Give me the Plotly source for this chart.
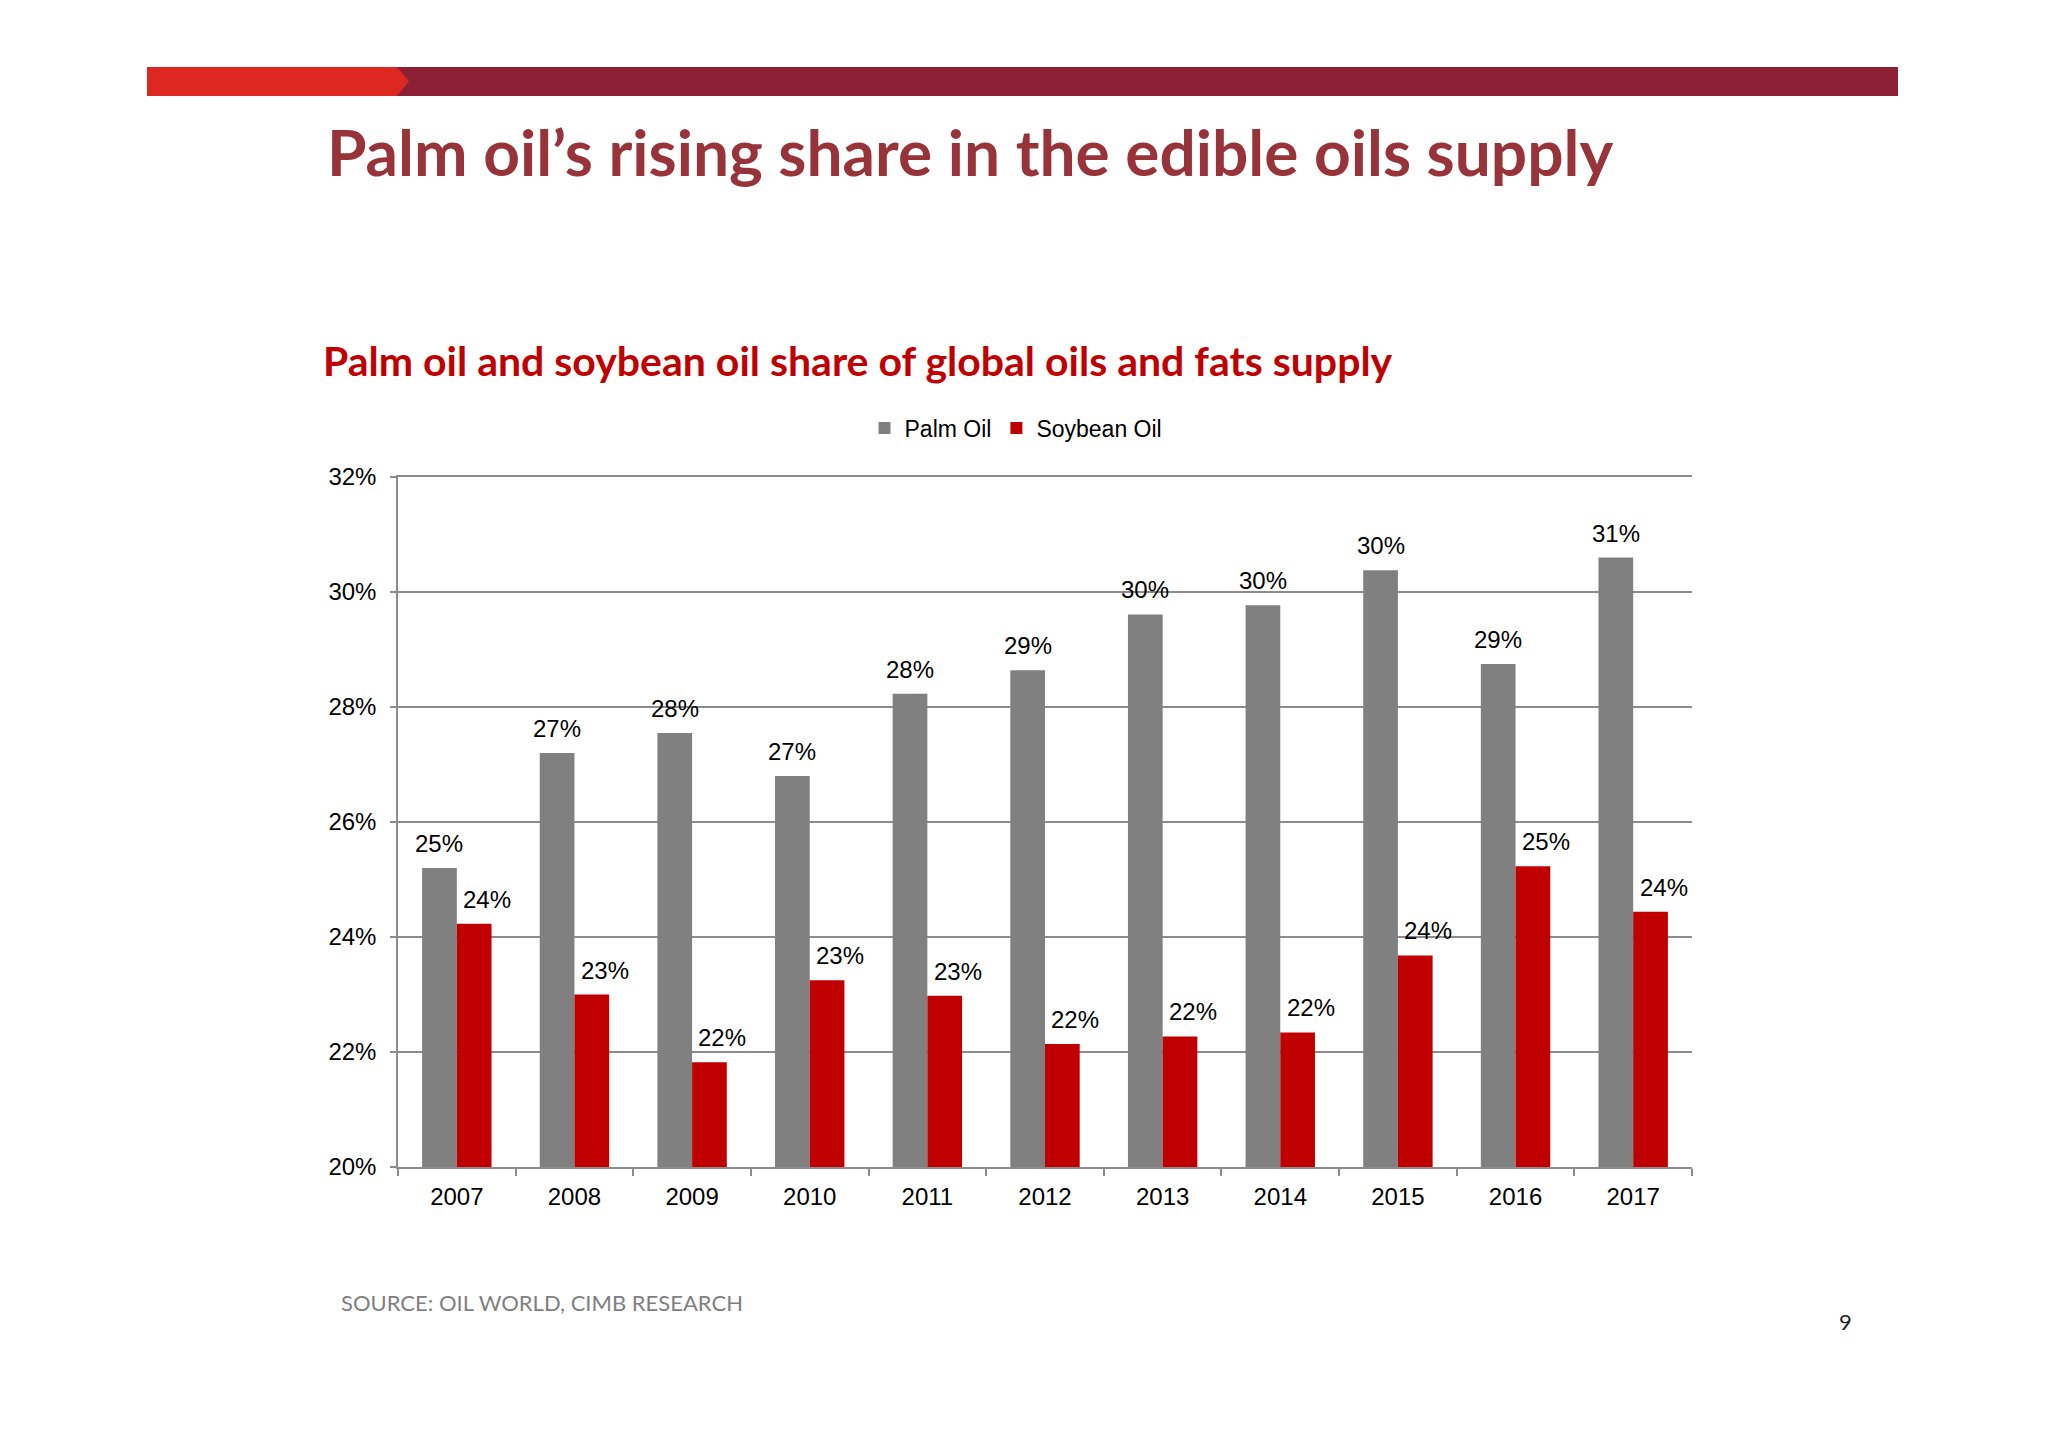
import plotly.graph_objects as go

years = ["2007", "2008", "2009", "2010", "2011", "2012", "2013", "2014", "2015", "2016", "2017"]
palm_oil = [25.2, 27.2, 27.55, 26.8, 28.23, 28.64, 29.61, 29.77, 30.38, 28.75, 30.6]
soybean_oil = [24.23, 23.0, 21.82, 23.25, 22.98, 22.14, 22.27, 22.34, 23.68, 25.23, 24.44]
y_ticks = [20, 22, 24, 26, 28, 30, 32]

W, H = 2048, 1448
L, R, T, B = 398, 1692, 477, 1167
BARGAP = 0.41
CAT_W = (R - L) / len(years)
BAR_W = CAT_W * (1 - BARGAP) / 2

def px(x):
    return (x - L) / (R - L)

def py(y):
    return (B - y) / (B - T)

GRAY = "#808080"
RED = "#C00000"
LABEL_FONT = dict(family="Liberation Sans, Arial", size=24, color="#000000")

fig = go.Figure()
fig.add_trace(go.Bar(name="Palm Oil", x=years, y=palm_oil, marker_color=GRAY, marker_line_width=0))
fig.add_trace(go.Bar(name="Soybean Oil", x=years, y=soybean_oil, marker_color=RED, marker_line_width=0))

shapes = [
    dict(type="rect", xref="paper", yref="paper", x0=px(397), x1=px(1898), y0=py(96), y1=py(67),
         fillcolor="#8B2035", line_width=0, layer="above"),
    dict(type="path", xref="paper", yref="paper",
         path=f"M {px(147)},{py(67)} L {px(397)},{py(67)} L {px(409)},{py(81.5)} L {px(397)},{py(96)} L {px(147)},{py(96)} Z",
         fillcolor="#DC2820", line_width=0, layer="above"),
]

annotations = [
    dict(text="<b>Palm oil’s rising share in the edible oils supply</b>", xref="paper", yref="paper",
         x=px(325), y=py(152), xanchor="left", yanchor="middle", showarrow=False,
         font=dict(family="Lato, Open Sans", size=64, color="#983339")),
    dict(text="<b>Palm oil and soybean oil share of global oils and fats supply</b>", xref="paper", yref="paper",
         x=px(321), y=py(360), xanchor="left", yanchor="middle", showarrow=False,
         font=dict(family="Lato, Open Sans", size=41, color="#C00000")),
    dict(text="SOURCE: OIL WORLD, CIMB RESEARCH", xref="paper", yref="paper",
         x=px(339), y=py(1302), xanchor="left", yanchor="middle", showarrow=False,
         font=dict(family="Lato, Open Sans", size=22, color="#7F7F7F")),
    dict(text="9", xref="paper", yref="paper",
         x=px(1845), y=py(1321), xanchor="center", yanchor="middle", showarrow=False,
         font=dict(family="Lato, Open Sans", size=22, color="#222222")),
]

# data labels above each bar (x given as category index)
for i, v in enumerate(palm_oil):
    annotations.append(dict(text=f"{v:.0f}%", x=i, y=v, xref="x", yref="y",
                            xshift=-BAR_W / 2, yshift=9, xanchor="center", yanchor="bottom",
                            showarrow=False, font=LABEL_FONT))
for i, v in enumerate(soybean_oil):
    annotations.append(dict(text=f"{v:.0f}%", x=i, y=v, xref="x", yref="y",
                            xshift=BAR_W / 2 + 13, yshift=9, xanchor="center", yanchor="bottom",
                            showarrow=False, font=LABEL_FONT))

fig.update_layout(
    width=W, height=H,
    margin=dict(l=L, r=W - R, t=T, b=H - B, pad=0),
    paper_bgcolor="#FFFFFF", plot_bgcolor="#FFFFFF",
    barmode="group", bargap=BARGAP, bargroupgap=0,
    shapes=shapes, annotations=annotations,
    showlegend=True,
    legend=dict(orientation="h", x=px(1016), y=py(428), xanchor="center", yanchor="middle",
                font=dict(family="Liberation Sans, Arial", size=23, color="#000000"),
                itemwidth=30, traceorder="normal", bgcolor="rgba(0,0,0,0)"),
    font=dict(family="Liberation Sans, Arial", color="#000000"),
)
fig.update_yaxes(
    range=[20, 32], tickvals=y_ticks, ticktext=[f"{v}%" for v in y_ticks],
    showgrid=True, gridcolor="#8C8C8C", gridwidth=1.5,
    showline=True, linecolor="#8C8C8C", linewidth=1.5,
    ticks="outside", ticklen=6, tickcolor="#8C8C8C", tickwidth=1.5,
    tickfont=dict(family="Liberation Sans, Arial", size=24, color="#000000"),
    zeroline=False, fixedrange=True, ticklabelstandoff=9,
)
fig.update_xaxes(
    type="category", categoryorder="array", categoryarray=years,
    range=[-0.5, len(years) - 0.5], showgrid=False,
    showline=True, linecolor="#8C8C8C", linewidth=1.5, mirror=True,
    ticks="outside", ticklen=7, tickcolor="#8C8C8C", tickwidth=1.5, tickson="boundaries",
    tickfont=dict(family="Liberation Sans, Arial", size=24, color="#000000"),
    fixedrange=True, ticklabelstandoff=7, tickangle=0,
)

fig.write_html("out.html")
